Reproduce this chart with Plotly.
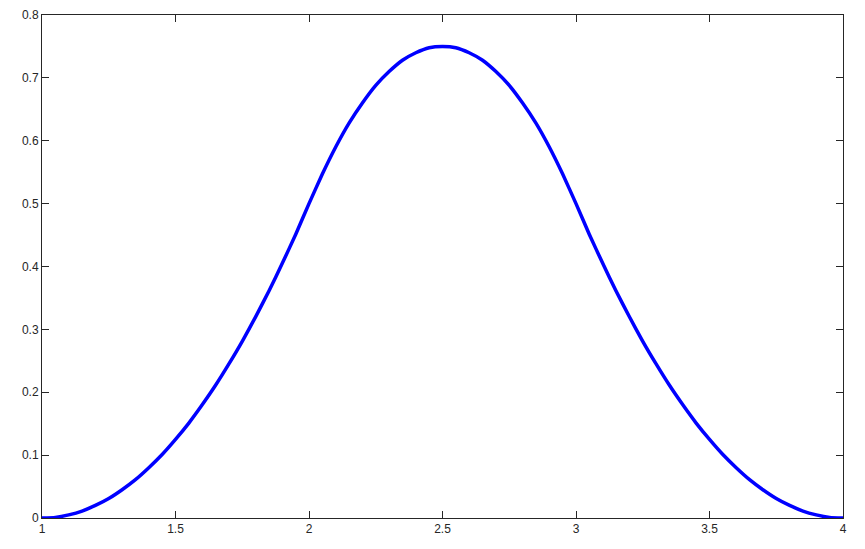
import plotly.graph_objects as go

# curve, step 0.05 on [1, 4]
x_vals = [1.0, 1.05, 1.1, 1.15, 1.2, 1.25, 1.3, 1.35, 1.4, 1.45,
          1.5, 1.55, 1.6, 1.65, 1.7, 1.75, 1.8, 1.85, 1.9, 1.95,
          2.0, 2.05, 2.1, 2.15, 2.2, 2.25, 2.3, 2.35, 2.4, 2.45,
          2.5, 2.55, 2.6, 2.65, 2.7, 2.75, 2.8, 2.85, 2.9, 2.95,
          3.0, 3.05, 3.1, 3.15, 3.2, 3.25, 3.3, 3.35, 3.4, 3.45,
          3.5, 3.55, 3.6, 3.65, 3.7, 3.75, 3.8, 3.85, 3.9, 3.95, 4.0]
y_vals = [0.0, 0.001, 0.005, 0.011, 0.02, 0.031, 0.045, 0.061, 0.08, 0.101,
          0.125, 0.151, 0.18, 0.211, 0.245, 0.281, 0.32, 0.361, 0.405, 0.451,
          0.5, 0.547, 0.59, 0.628, 0.66, 0.688, 0.71, 0.728, 0.74, 0.748,
          0.75, 0.748, 0.74, 0.728, 0.71, 0.688, 0.66, 0.628, 0.59, 0.547,
          0.5, 0.451, 0.405, 0.361, 0.32, 0.281, 0.245, 0.211, 0.18, 0.151,
          0.125, 0.101, 0.08, 0.061, 0.045, 0.031, 0.02, 0.011, 0.005, 0.001, 0.0]

x_ticks = [1, 1.5, 2, 2.5, 3, 3.5, 4]
x_ticklabels = ["1", "1.5", "2", "2.5", "3", "3.5", "4"]
y_ticks = [0, 0.1, 0.2, 0.3, 0.4, 0.5, 0.6, 0.7, 0.8]
y_ticklabels = ["0", "0.1", "0.2", "0.3", "0.4", "0.5", "0.6", "0.7", "0.8"]

fig = go.Figure()
fig.add_trace(go.Scatter(
    x=x_vals, y=y_vals, mode="lines",
    line=dict(color="#0000ff", width=3.5, shape="spline", smoothing=0.5),
    showlegend=False, cliponaxis=False
))

axis_common = dict(
    showgrid=False, zeroline=False, automargin=False,
    showline=True, linecolor="#262626", linewidth=1, mirror="ticks",
    ticks="inside", ticklen=7, tickcolor="#262626", tickwidth=1,
    ticklabeloverflow="allow",
    tickfont=dict(family="Liberation Sans, Arial", size=12, color="#262626"),
)

fig.update_xaxes(range=[1, 4], tickvals=x_ticks, ticktext=x_ticklabels, **axis_common)
fig.update_yaxes(range=[0, 0.8], tickvals=y_ticks, ticktext=y_ticklabels, **axis_common)

# the page body adds an 8px offset, so margins are shifted by that much
fig.update_layout(
    width=865, height=549,
    margin=dict(l=34, r=30, t=7, b=39),
    paper_bgcolor="white", plot_bgcolor="white",
)

fig.write_html("out.html")
